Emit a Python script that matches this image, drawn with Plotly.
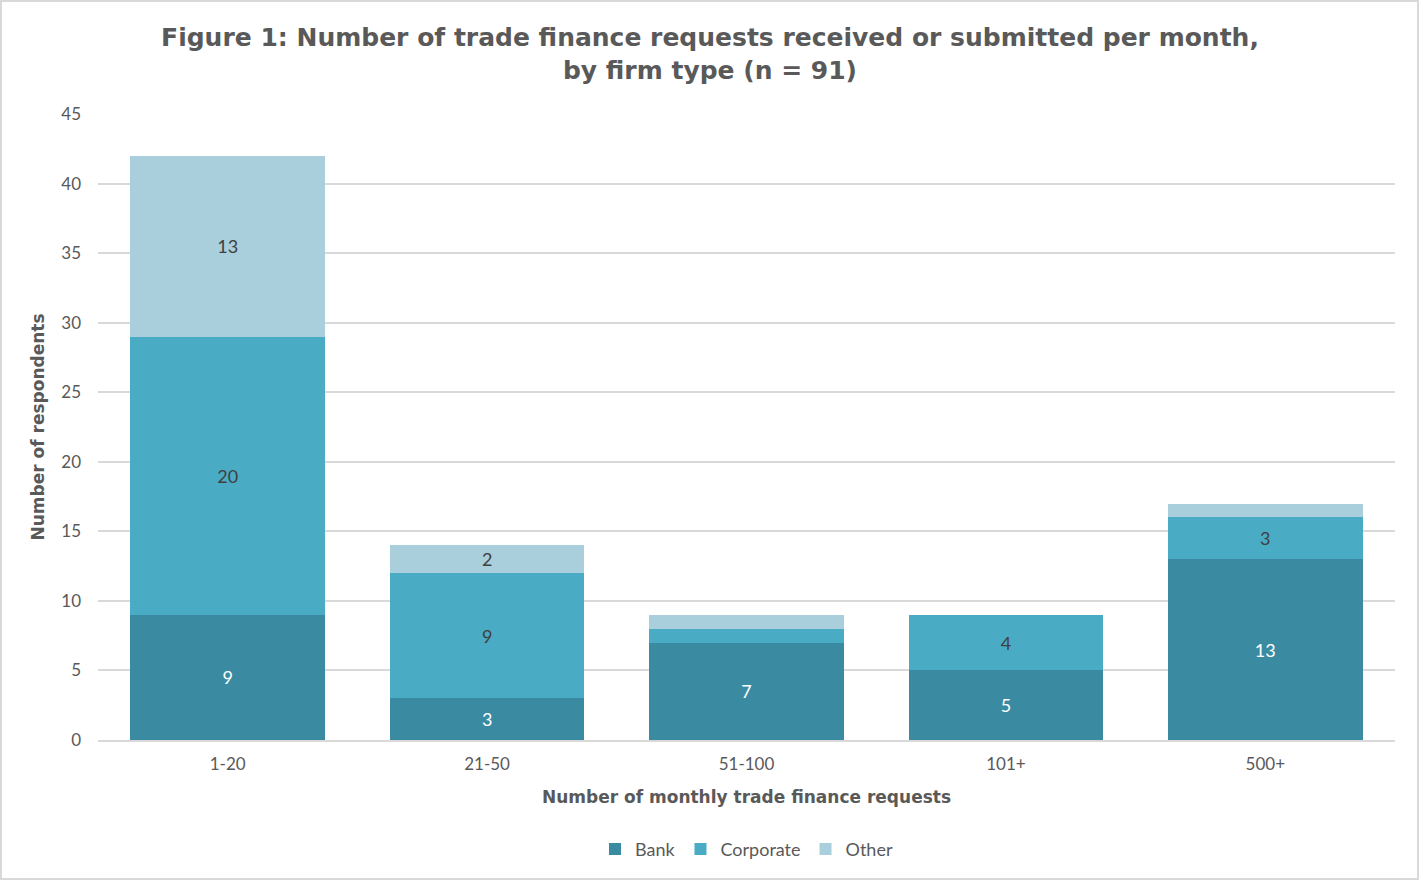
import plotly.graph_objects as go

categories = ["1-20", "21-50", "51-100", "101+", "500+"]
bank = [9, 3, 7, 5, 13]
corporate = [20, 9, 1, 4, 3]
other = [13, 2, 1, 0, 1]

W, H = 1420, 881
ML, MR, MT, MB = 98, 25, 114, 141
PW, PH = W - ML - MR, H - MT - MB

font = "Lato, 'Open Sans', sans-serif"
bold_font = "'DejaVu Sans', sans-serif"
grey = "#595959"


def labels(vals):
    # small segments are not labelled in the original
    return [str(v) if v >= 2 else "" for v in vals]


fig = go.Figure()
series = [
    ("Bank", bank, "#3A8BA2", "white"),
    ("Corporate", corporate, "#4AABC5", "#404040"),
    ("Other", other, "#A9CEDC", "#404040"),
]
for name, vals, col, tcol in series:
    fig.add_trace(go.Bar(
        x=categories, y=vals, name=name, marker_color=col,
        marker_line_width=0,
        text=labels(vals), textposition="inside", insidetextanchor="middle",
        textangle=0,
        textfont=dict(color=tcol, size=18, family=font),
        constraintext="none",
    ))

fig.update_layout(
    barmode="stack", bargap=0.25,
    width=W, height=H,
    margin=dict(l=ML, r=MR, t=MT, b=MB),
    paper_bgcolor="white", plot_bgcolor="white",
    font=dict(family=font, color=grey, size=17),
    title=dict(
        text="<b>Figure 1: Number of trade finance requests received or submitted per month,<br>by firm type (n = 91)</b>",
        x=0.5, xanchor="center", xref="container", yref="container", y=1 - 46 / H, yanchor="middle",
        font=dict(size=25, color=grey, family=bold_font),
    ),
    legend=dict(orientation="h", x=0.5, xanchor="center", y=-0.145, yanchor="top",
                font=dict(size=18, color=grey), traceorder="normal", itemwidth=30),
    uniformtext=dict(mode=False),
)
fig.update_xaxes(
    title=dict(text="<b>Number of monthly trade finance requests</b>",
               font=dict(size=17, color=grey, family=bold_font), standoff=18),
    showline=True, linecolor="#D9D9D9", linewidth=2, ticks="", ticklabelstandoff=8,
    tickfont=dict(size=17, color=grey),
)
fig.update_yaxes(
    title=dict(text="<b>Number of respondents</b>",
               font=dict(size=17, color=grey, family=bold_font), standoff=12),
    range=[0, 45], dtick=5, showgrid=True, gridcolor="#D9D9D9", gridwidth=2,
    zeroline=False, showline=False, ticks="", ticklabelstandoff=16,
    tickfont=dict(size=17, color=grey),
)

# light grey frame round the whole chart
fig.add_shape(type="rect", xref="paper", yref="paper",
              x0=(1 - ML) / PW, x1=(W - 2 - ML) / PW,
              y0=-(H - 2 - MT - PH) / PH, y1=(MT - 1) / PH + 1,
              line=dict(color="#D9D9D9", width=2), fillcolor="rgba(0,0,0,0)", layer="below")

fig.write_html("out.html", config={"displayModeBar": False},
               post_script="document.body.style.margin='0';")
